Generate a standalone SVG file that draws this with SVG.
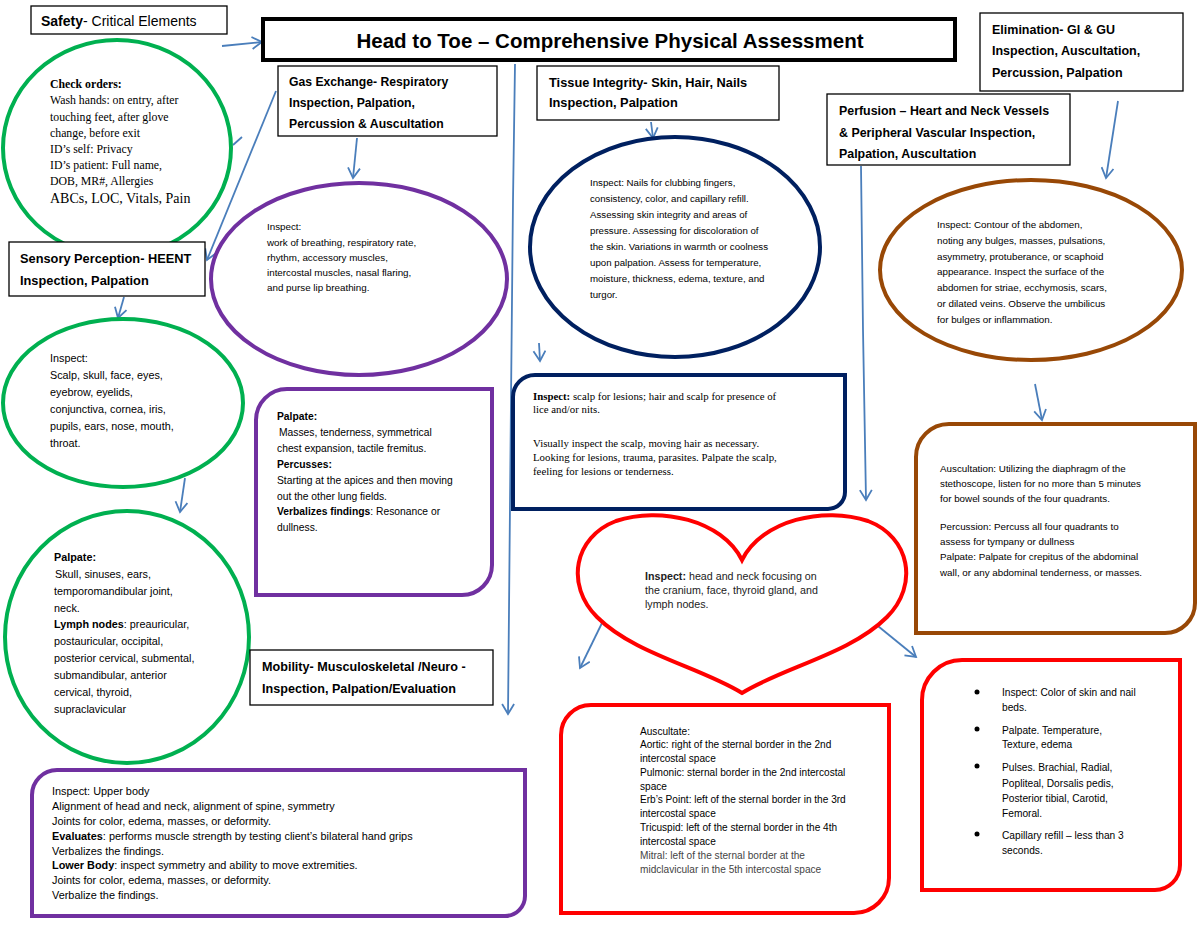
<svg xmlns="http://www.w3.org/2000/svg" width="1200" height="927" viewBox="0 0 1200 927">
<defs>
<marker id="ah" markerWidth="14" markerHeight="14" refX="11" refY="7" orient="auto" markerUnits="userSpaceOnUse">
<path d="M1,1 L11,7 L1,13" fill="none" stroke="#4A7EBB" stroke-width="1.8"/>
</marker>
</defs>
<style>
.hdr{fill:#fff;stroke:#000;stroke-width:1.3}
.ht{font-family:"Liberation Sans",Arial,sans-serif;font-weight:bold;fill:#000}
.t{font-family:"Liberation Sans",Arial,sans-serif;fill:#000}
.s{font-family:"Liberation Serif","Times New Roman",serif;fill:#000}
.con{fill:none;stroke:#4A7EBB;stroke-width:1.8;marker-end:url(#ah)}
.lin{fill:none;stroke:#4A7EBB;stroke-width:1.8}
</style>
<rect width="1200" height="927" fill="#fff"/>

<g id="connectors">
<path class="con" d="M222,46 L262,42"/>
<path class="con" d="M276,91 L207,260"/>
<path class="lin" d="M242,137 L233,145"/>
<path class="con" d="M357,138 L353,178"/>
<path class="con" d="M515,64 L513,200 L511,400 L508,714"/>
<path class="con" d="M651,122 L653,138"/>
<path class="con" d="M539,343 L540,361"/>
<path class="con" d="M861,166 L863,330 L866,500"/>
<path class="con" d="M1118,101 L1106,178"/>
<path class="con" d="M1035,384 L1042,420"/>
<path class="con" d="M124,297 L118,318"/>
<path class="con" d="M185,478 L180,512"/>
<path class="con" d="M602,623 L580,668"/>
<path class="con" d="M873,622 L916,657"/>
</g>

<g id="title">
<rect x="263" y="19" width="692" height="41" fill="#fff" stroke="#000" stroke-width="4"/>
<text x="610" y="48" text-anchor="middle" font-family="'Liberation Sans',Arial,sans-serif" font-weight="bold" font-size="20.5px">Head to Toe – Comprehensive Physical Assessment</text>
</g>

<g id="safety">
<rect class="hdr" x="31" y="6" width="196" height="28"/>
<text x="41" y="26" font-family="'Liberation Sans',Arial,sans-serif" font-size="14px"><tspan font-weight="bold">Safety</tspan>- Critical Elements</text>
</g>

<g id="safety-circle">
<ellipse cx="117" cy="148" rx="114" ry="108" fill="#fff" stroke="#00B050" stroke-width="4"/>
<text class="s" style="font-size:11.8px"><tspan x="50" y="88" font-weight="bold">Check orders:</tspan><tspan x="50" y="104">Wash hands: on entry, after</tspan><tspan x="50" y="121">touching feet, after glove</tspan><tspan x="50" y="137">change, before exit</tspan><tspan x="50" y="153">ID’s self: Privacy</tspan><tspan x="50" y="169">ID’s patient: Full name,</tspan><tspan x="50" y="185">DOB, MR#, Allergies</tspan><tspan x="50" y="203" style="font-size:14px">ABCs, LOC, Vitals, Pain</tspan></text>
</g>

<g id="sensory">
<rect class="hdr" x="9" y="242" width="196" height="54"/>
<text class="ht" style="font-size:12.8px"><tspan x="20" y="263">Sensory Perception- HEENT</tspan><tspan x="20" y="285">Inspection, Palpation</tspan></text>
</g>

<g id="sensory-inspect">
<ellipse cx="123" cy="403" rx="120" ry="84" fill="#fff" stroke="#00B050" stroke-width="4"/>
<text class="t" style="font-size:10.8px"><tspan x="50" y="362">Inspect:</tspan><tspan x="50" y="379">Scalp, skull, face, eyes,</tspan><tspan x="50" y="396">eyebrow, eyelids,</tspan><tspan x="50" y="413">conjunctiva, cornea, iris,</tspan><tspan x="50" y="430">pupils, ears, nose, mouth,</tspan><tspan x="50" y="447">throat.</tspan></text>
</g>

<g id="sensory-palpate">
<ellipse cx="127" cy="637" rx="122" ry="126" fill="#fff" stroke="#00B050" stroke-width="4"/>
<text class="t" style="font-size:10.8px"><tspan x="54" y="561" font-weight="bold">Palpate:</tspan><tspan x="55" y="578">Skull, sinuses, ears,</tspan><tspan x="54" y="595">temporomandibular joint,</tspan><tspan x="54" y="612">neck.</tspan><tspan x="54" y="628"><tspan font-weight="bold">Lymph nodes</tspan>: preauricular,</tspan><tspan x="54" y="645">postauricular, occipital,</tspan><tspan x="54" y="662">posterior cervical, submental,</tspan><tspan x="54" y="679">submandibular, anterior</tspan><tspan x="54" y="696">cervical, thyroid,</tspan><tspan x="54" y="713">supraclavicular</tspan></text>
</g>

<g id="gas-exchange">
<rect class="hdr" x="278" y="66" width="219" height="70"/>
<text class="ht" style="font-size:12.2px"><tspan x="289" y="86">Gas Exchange- Respiratory</tspan><tspan x="289" y="107">Inspection, Palpation,</tspan><tspan x="289" y="128">Percussion &amp; Auscultation</tspan></text>
</g>

<g id="gas-inspect">
<ellipse cx="359" cy="279" rx="148" ry="96" fill="#fff" stroke="#7030A0" stroke-width="4"/>
<text class="t" style="font-size:9.8px"><tspan x="267" y="230">Inspect:</tspan><tspan x="267" y="246">work of breathing, respiratory rate,</tspan><tspan x="267" y="261">rhythm, accessory muscles,</tspan><tspan x="267" y="276">intercostal muscles, nasal flaring,</tspan><tspan x="267" y="291">and purse lip breathing.</tspan></text>
</g>

<g id="gas-palpate">
<path d="M256,595 L256,420 A31,31 0 0 1 287,389 L492,389 L492,565 A30,30 0 0 1 462,595 Z" fill="#fff" stroke="#7030A0" stroke-width="4"/>
<text class="t" style="font-size:10.3px"><tspan x="277" y="420" font-weight="bold">Palpate:</tspan><tspan x="279" y="436">Masses, tenderness, symmetrical</tspan><tspan x="277" y="452">chest expansion, tactile fremitus.</tspan><tspan x="277" y="468" font-weight="bold">Percusses:</tspan><tspan x="277" y="484">Starting at the apices and then moving</tspan><tspan x="277" y="500">out the other lung fields.</tspan><tspan x="277" y="515"><tspan font-weight="bold">Verbalizes findings</tspan>: Resonance or</tspan><tspan x="277" y="531">dullness.</tspan></text>
</g>

<g id="mobility">
<rect class="hdr" x="250" y="650" width="243" height="55"/>
<text class="ht" style="font-size:12.6px"><tspan x="262" y="671">Mobility- Musculoskeletal /Neuro -</tspan><tspan x="262" y="693">Inspection, Palpation/Evaluation</tspan></text>
</g>

<g id="mobility-details">
<path d="M32,916 L32,795 A25,25 0 0 1 57,770 L525,770 L525,896 A20,20 0 0 1 505,916 Z" fill="#fff" stroke="#7030A0" stroke-width="4"/>
<text class="t" style="font-size:10.9px"><tspan x="52" y="795">Inspect: Upper body</tspan><tspan x="52" y="810">Alignment of head and neck, alignment of spine, symmetry</tspan><tspan x="52" y="825">Joints for color, edema, masses, or deformity.</tspan><tspan x="52" y="840"><tspan font-weight="bold">Evaluates</tspan>: performs muscle strength by testing client’s bilateral hand grips</tspan><tspan x="52" y="855">Verbalizes the findings.</tspan><tspan x="52" y="869"><tspan font-weight="bold">Lower Body</tspan>: inspect symmetry and ability to move extremities.</tspan><tspan x="52" y="884">Joints for color, edema, masses, or deformity.</tspan><tspan x="52" y="899">Verbalize the findings.</tspan></text>
</g>

<g id="tissue">
<rect class="hdr" x="537" y="66" width="242" height="54"/>
<text class="ht" style="font-size:12.8px"><tspan x="549" y="87">Tissue Integrity- Skin, Hair, Nails</tspan><tspan x="549" y="107">Inspection, Palpation</tspan></text>
</g>

<g id="tissue-inspect">
<ellipse cx="675" cy="247" rx="145" ry="110" fill="#fff" stroke="#002060" stroke-width="4"/>
<text class="t" style="font-size:9.7px"><tspan x="590" y="186">Inspect: Nails for clubbing fingers,</tspan><tspan x="590" y="202">consistency, color, and capillary refill.</tspan><tspan x="590" y="218">Assessing skin integrity and areas of</tspan><tspan x="590" y="234">pressure. Assessing for discoloration of</tspan><tspan x="590" y="250">the skin. Variations in warmth or coolness</tspan><tspan x="590" y="266">upon palpation. Assess for temperature,</tspan><tspan x="590" y="282">moisture, thickness, edema, texture, and</tspan><tspan x="590" y="298">turgor.</tspan></text>
</g>

<g id="tissue-scalp">
<path d="M513,509 L513,397 A22,22 0 0 1 535,375 L845,375 L845,492 A17,17 0 0 1 828,509 Z" fill="#fff" stroke="#002060" stroke-width="4"/>
<text class="s" style="font-size:10.8px"><tspan x="533" y="400"><tspan font-weight="bold">Inspect:</tspan> scalp for lesions; hair and scalp for presence of</tspan><tspan x="533" y="413">lice and/or nits.</tspan><tspan x="533" y="447">Visually inspect the scalp, moving hair as necessary.</tspan><tspan x="533" y="461">Looking for lesions, trauma, parasites. Palpate the scalp,</tspan><tspan x="533" y="475">feeling for lesions or tenderness.</tspan></text>
</g>

<g id="perfusion">
<rect class="hdr" x="827" y="94" width="243" height="71"/>
<text class="ht" style="font-size:12.4px"><tspan x="839" y="115">Perfusion – Heart and Neck Vessels</tspan><tspan x="839" y="137">&amp; Peripheral Vascular Inspection,</tspan><tspan x="839" y="158">Palpation, Auscultation</tspan></text>
</g>

<g id="perfusion-heart">
<path d="M742,560 C722,520 660,506 616,521 C574,537 565,585 597,617 C634,654 700,667 742,693 C784,667 850,654 887,617 C919,585 910,537 868,521 C824,506 762,520 742,560 Z" fill="#fff" stroke="#FF0000" stroke-width="4"/>
<text class="t" style="font-size:10.7px;fill:#222"><tspan x="645" y="580"><tspan font-weight="bold">Inspect:</tspan> head and neck focusing on</tspan><tspan x="645" y="594">the cranium, face, thyroid gland, and</tspan><tspan x="645" y="608">lymph nodes.</tspan></text>
</g>

<g id="perfusion-auscultate">
<path d="M561,913 L561,735 A30,30 0 0 1 591,705 L889,705 L889,878 A35,35 0 0 1 854,913 Z" fill="#fff" stroke="#FF0000" stroke-width="4"/>
<text class="t" style="font-size:10.1px"><tspan x="640" y="735">Auscultate:</tspan><tspan x="640" y="748">Aortic: right of the sternal border in the 2nd</tspan><tspan x="640" y="762">intercostal space</tspan><tspan x="640" y="776">Pulmonic: sternal border in the 2nd intercostal</tspan><tspan x="640" y="790">space</tspan><tspan x="640" y="803">Erb’s Point: left of the sternal border in the 3rd</tspan><tspan x="640" y="817">intercostal space</tspan><tspan x="640" y="831">Tricuspid: left of the sternal border in the 4th</tspan><tspan x="640" y="845">intercostal space</tspan><tspan x="640" y="859" style="fill:#444">Mitral: left of the sternal border at the</tspan><tspan x="640" y="873" style="fill:#444">midclavicular in the 5th intercostal space</tspan></text>
</g>

<g id="perfusion-peripheral">
<path d="M922,890 L922,700 A40,40 0 0 1 962,660 L1180,660 L1180,865 A25,25 0 0 1 1155,890 Z" fill="#fff" stroke="#FF0000" stroke-width="4"/>
<g fill="#000"><circle cx="977" cy="692" r="2.5"/><circle cx="977" cy="729" r="2.5"/><circle cx="977" cy="766" r="2.5"/><circle cx="977" cy="834" r="2.5"/></g>
<text class="t" style="font-size:10.2px"><tspan x="1002" y="696">Inspect: Color of skin and nail</tspan><tspan x="1002" y="711">beds.</tspan><tspan x="1002" y="734">Palpate. Temperature,</tspan><tspan x="1002" y="748">Texture, edema</tspan><tspan x="1002" y="771">Pulses. Brachial, Radial,</tspan><tspan x="1002" y="787">Popliteal, Dorsalis pedis,</tspan><tspan x="1002" y="802">Posterior tibial, Carotid,</tspan><tspan x="1002" y="817">Femoral.</tspan><tspan x="1002" y="839">Capillary refill – less than 3</tspan><tspan x="1002" y="854">seconds.</tspan></text>
</g>

<g id="elimination">
<rect class="hdr" x="980" y="13" width="203" height="78"/>
<text class="ht" style="font-size:12.5px"><tspan x="992" y="34">Elimination- GI &amp; GU</tspan><tspan x="992" y="55">Inspection, Auscultation,</tspan><tspan x="992" y="77">Percussion, Palpation</tspan></text>
</g>

<g id="elimination-inspect">
<ellipse cx="1031" cy="270" rx="151" ry="90" fill="#fff" stroke="#984806" stroke-width="4"/>
<text class="t" style="font-size:9.8px"><tspan x="937" y="228">Inspect: Contour of the abdomen,</tspan><tspan x="937" y="244">noting any bulges, masses, pulsations,</tspan><tspan x="937" y="260">asymmetry, protuberance, or scaphoid</tspan><tspan x="937" y="275">appearance. Inspect the surface of the</tspan><tspan x="937" y="291">abdomen for striae, ecchymosis, scars,</tspan><tspan x="937" y="307">or dilated veins. Observe the umbilicus</tspan><tspan x="937" y="323">for bulges or inflammation.</tspan></text>
</g>

<g id="elimination-auscultation">
<path d="M916,633 L916,457 A33,33 0 0 1 949,424 L1195,424 L1195,603 A30,30 0 0 1 1165,633 Z" fill="#fff" stroke="#984806" stroke-width="4"/>
<text class="t" style="font-size:9.8px"><tspan x="940" y="472">Auscultation: Utilizing the diaphragm of the</tspan><tspan x="940" y="487">stethoscope, listen for no more than 5 minutes</tspan><tspan x="940" y="502">for bowel sounds of the four quadrants.</tspan><tspan x="940" y="530">Percussion: Percuss all four quadrants to</tspan><tspan x="940" y="545">assess for tympany or dullness</tspan><tspan x="940" y="560">Palpate: Palpate for crepitus of the abdominal</tspan><tspan x="940" y="576">wall, or any abdominal tenderness, or masses.</tspan></text>
</g>
</svg>
